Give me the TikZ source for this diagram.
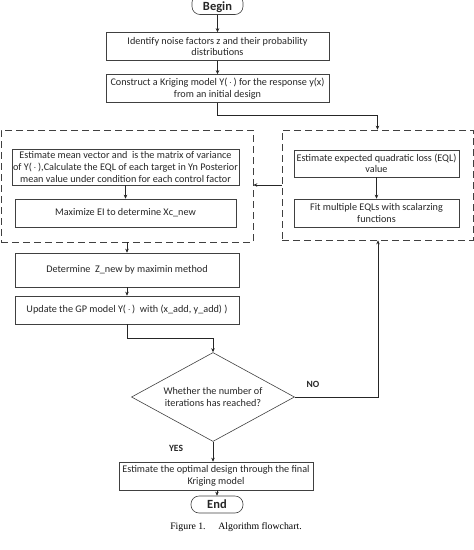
\documentclass[tikz,border=0pt]{standalone}
\usepackage{fontspec}
\setmainfont{Carlito}
\newfontfamily\capfont{Liberation Serif}
\usetikzlibrary{shapes.geometric,arrows.meta,calc}
\begin{document}
\begin{tikzpicture}[x=1pt,y=-1pt,
  line width=0.6pt,
  every node/.style={text=black!85},
  pbox/.style={draw=black!75, rectangle, align=center, inner sep=1pt,
     font=\fontsize{10.2}{11.6}\selectfont},
  dbox/.style={draw=black!75, rectangle, dash pattern=on 7pt off 4pt, line width=0.7pt},
  term/.style={draw=black!75, rectangle, rounded corners=8pt, inner sep=0pt},
  termtext/.style={font=\fontsize{12.5}{14}\selectfont\bfseries, inner sep=0pt},
  arr/.style={draw=black!85, -{Stealth[length=4pt,width=3.5pt]}},
  lab/.style={font=\fontsize{9.5}{10}\selectfont\bfseries}
]
\useasboundingbox (0,0) rectangle (474,550);
% terminals
\node[term, minimum width=51pt, minimum height=20pt] (begin) at (217.5,4.5) {};
\node[termtext] (begintext) at (217.5,7.5) {Begin};
\node[term, minimum width=52pt, minimum height=17pt] (end) at (217,504.5) {};
\node[termtext] (endtext) at (217,504.5) {End};
% main boxes
\node[pbox, minimum width=223pt, minimum height=28pt] (b1) at (217.5,46.5)
  {Identify noise factors z and their probability\\distributions};
\node[pbox, minimum width=223pt, minimum height=28pt] (b2) at (217.5,88.5)
  {Construct a Kriging model Y(\,$\cdot$\,) for the response y(x)\\from an initial design};
% dashed groups
\node[dbox, minimum width=252pt, minimum height=112pt] (LD) at (127,186) {};
\node[dbox, minimum width=191pt, minimum height=110pt] (RD) at (377.5,185) {};
% left inner
\node[pbox, minimum width=221pt, minimum height=36pt] (l1) at (125.5,167)
  {Estimate mean vector and\ \ is the matrix of variance\\of Y(\,$\cdot$\,),Calculate the EQL of each target in Yn Posterior\\mean value under condition for each control factor};
\node[pbox, minimum width=221pt, minimum height=28pt] (l2) at (125.5,213)
  {Maximize EI to determine Xc\_new};
% right inner
\node[pbox, minimum width=165pt, minimum height=27pt] (r1) at (376.5,163.5)
  {Estimate expected quadratic loss (EQL)\\value};
\node[pbox, minimum width=165pt, minimum height=28pt] (r2) at (376.5,213)
  {Fit multiple EQLs with scalarzing\\functions};
% lower boxes
\node[pbox, minimum width=224pt, minimum height=34pt] (det) at (127,270)
  {Determine\ \ Z\_new by maximin method};
\node[pbox, minimum width=224pt, minimum height=28pt] (upd) at (127,310)
  {Update the GP model Y(\,$\cdot$\,)\ \ with (x\_add, y\_add) )};
% diamond
\node[draw=black!75, diamond, aspect=1.83, inner sep=0pt, minimum width=163pt,
  minimum height=89pt, align=center, font=\fontsize{10.2}{12.5}\selectfont] (dia) at (213,397)
  {Whether the number of\\iterations has reached?};
% final box
\node[pbox, minimum width=194pt, minimum height=28pt] (fin) at (216,476)
  {Estimate the optimal design through the final\\Kriging model};
% connectors
\draw[arr] (begin) -- (b1.north -| begin);
\draw[arr] (b1) -- (b2);
\coordinate (c1) at (217.5,115);
\draw[arr] (b2.south) -- (c1) -| (RD.north);
\draw[arr] (l1.south) -- (l2.north);
\draw[arr] (RD.west) -- (RD.west -| LD.east);
\draw[arr] (LD.south) -- (det.north);
\draw[arr] (r1) -- (r2);
\draw[arr] (det) -- (upd);
\coordinate (c2) at (127,338);
\draw[arr] (upd.south) -- (c2) -| (dia.north);
\coordinate (c3) at (378,397);
\draw[arr] (dia.east) -- (c3) -- (RD.south -| c3);
\node[lab] (no) at (313,384) {NO};
\draw[arr] (dia.south) -- (fin.north -| dia.south);
\node[lab] (yes) at (176,448) {YES};
\draw[arr] (fin.south -| end) -- (end.north);
% caption
\node[font=\capfont\fontsize{9.8}{11}\selectfont, text=black] (cap) at (236,527)
  {Figure 1.\hspace{1.3em}Algorithm flowchart.};
\end{tikzpicture}
\end{document}
